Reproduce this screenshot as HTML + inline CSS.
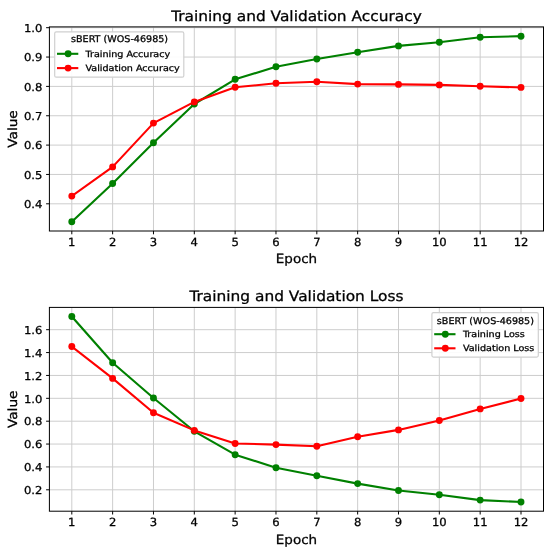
<!DOCTYPE html>
<html><head><meta charset="utf-8"><title>Training and Validation Accuracy / Loss</title>
<style>html,body{margin:0;padding:0;background:#fff;width:550px;height:553px;overflow:hidden}svg{display:block}</style>
</head><body>
<svg width="550" height="553" viewBox="0 0 550 553" font-family='"DejaVu Sans", "Liberation Sans", sans-serif' fill="#000">
<style>text{text-rendering:geometricPrecision;stroke:#000;stroke-width:0.3px;paint-order:stroke}</style>
<rect width="550" height="553" fill="#fff"/>
<path d="M71.8 26.9V231M112.64 26.9V231M153.47 26.9V231M194.31 26.9V231M235.14 26.9V231M275.98 26.9V231M316.82 26.9V231M357.65 26.9V231M398.49 26.9V231M439.32 26.9V231M480.16 26.9V231M521 26.9V231M49.4 203.8H543.5M49.4 174.45H543.5M49.4 145.1H543.5M49.4 115.75H543.5M49.4 86.4H543.5M49.4 57.05H543.5M49.4 27.7H543.5" stroke="#cdcdcd" stroke-width="1.0" fill="none"/>
<polyline points="71.8,221.7 112.64,183.5 153.47,142.8 194.31,104 235.14,79.3 275.98,66.8 316.82,59 357.65,52.2 398.49,45.9 439.32,42.3 480.16,37.2 521,36.2" fill="none" stroke="#008000" stroke-width="2.1" stroke-linejoin="round" stroke-linecap="square"/>
<circle cx="71.8" cy="221.7" r="3.45" fill="#008000"/>
<circle cx="112.64" cy="183.5" r="3.45" fill="#008000"/>
<circle cx="153.47" cy="142.8" r="3.45" fill="#008000"/>
<circle cx="194.31" cy="104" r="3.45" fill="#008000"/>
<circle cx="235.14" cy="79.3" r="3.45" fill="#008000"/>
<circle cx="275.98" cy="66.8" r="3.45" fill="#008000"/>
<circle cx="316.82" cy="59" r="3.45" fill="#008000"/>
<circle cx="357.65" cy="52.2" r="3.45" fill="#008000"/>
<circle cx="398.49" cy="45.9" r="3.45" fill="#008000"/>
<circle cx="439.32" cy="42.3" r="3.45" fill="#008000"/>
<circle cx="480.16" cy="37.2" r="3.45" fill="#008000"/>
<circle cx="521" cy="36.2" r="3.45" fill="#008000"/>
<polyline points="71.8,196.1 112.64,166.9 153.47,123.1 194.31,101.9 235.14,87.3 275.98,83.3 316.82,81.7 357.65,84.1 398.49,84.4 439.32,84.9 480.16,86.3 521,87.4" fill="none" stroke="#ff0000" stroke-width="2.1" stroke-linejoin="round" stroke-linecap="square"/>
<circle cx="71.8" cy="196.1" r="3.45" fill="#ff0000"/>
<circle cx="112.64" cy="166.9" r="3.45" fill="#ff0000"/>
<circle cx="153.47" cy="123.1" r="3.45" fill="#ff0000"/>
<circle cx="194.31" cy="101.9" r="3.45" fill="#ff0000"/>
<circle cx="235.14" cy="87.3" r="3.45" fill="#ff0000"/>
<circle cx="275.98" cy="83.3" r="3.45" fill="#ff0000"/>
<circle cx="316.82" cy="81.7" r="3.45" fill="#ff0000"/>
<circle cx="357.65" cy="84.1" r="3.45" fill="#ff0000"/>
<circle cx="398.49" cy="84.4" r="3.45" fill="#ff0000"/>
<circle cx="439.32" cy="84.9" r="3.45" fill="#ff0000"/>
<circle cx="480.16" cy="86.3" r="3.45" fill="#ff0000"/>
<circle cx="521" cy="87.4" r="3.45" fill="#ff0000"/>
<rect x="49.4" y="26.9" width="494.1" height="204.1" fill="none" stroke="#000" stroke-width="1.0"/>
<path d="M71.8 231v3.3M112.64 231v3.3M153.47 231v3.3M194.31 231v3.3M235.14 231v3.3M275.98 231v3.3M316.82 231v3.3M357.65 231v3.3M398.49 231v3.3M439.32 231v3.3M480.16 231v3.3M521 231v3.3M49.4 203.8h-3.3M49.4 174.45h-3.3M49.4 145.1h-3.3M49.4 115.75h-3.3M49.4 86.4h-3.3M49.4 57.05h-3.3M49.4 27.7h-3.3" stroke="#000" stroke-width="1" fill="none"/>
<text transform="translate(71.8 246.2) scale(1 0.97)" font-size="11.6" text-anchor="middle">1</text>
<text transform="translate(112.64 246.2) scale(1 0.97)" font-size="11.6" text-anchor="middle">2</text>
<text transform="translate(153.47 246.2) scale(1 0.97)" font-size="11.6" text-anchor="middle">3</text>
<text transform="translate(194.31 246.2) scale(1 0.97)" font-size="11.6" text-anchor="middle">4</text>
<text transform="translate(235.14 246.2) scale(1 0.97)" font-size="11.6" text-anchor="middle">5</text>
<text transform="translate(275.98 246.2) scale(1 0.97)" font-size="11.6" text-anchor="middle">6</text>
<text transform="translate(316.82 246.2) scale(1 0.97)" font-size="11.6" text-anchor="middle">7</text>
<text transform="translate(357.65 246.2) scale(1 0.97)" font-size="11.6" text-anchor="middle">8</text>
<text transform="translate(398.49 246.2) scale(1 0.97)" font-size="11.6" text-anchor="middle">9</text>
<text transform="translate(439.32 246.2) scale(1 0.97)" font-size="11.6" text-anchor="middle">10</text>
<text transform="translate(480.16 246.2) scale(1 0.97)" font-size="11.6" text-anchor="middle">11</text>
<text transform="translate(521 246.2) scale(1 0.97)" font-size="11.6" text-anchor="middle">12</text>
<text transform="translate(42.4 208.1) scale(1 0.94)" font-size="11.6" text-anchor="end">0.4</text>
<text transform="translate(42.4 178.75) scale(1 0.94)" font-size="11.6" text-anchor="end">0.5</text>
<text transform="translate(42.4 149.4) scale(1 0.94)" font-size="11.6" text-anchor="end">0.6</text>
<text transform="translate(42.4 120.05) scale(1 0.94)" font-size="11.6" text-anchor="end">0.7</text>
<text transform="translate(42.4 90.7) scale(1 0.94)" font-size="11.6" text-anchor="end">0.8</text>
<text transform="translate(42.4 61.35) scale(1 0.94)" font-size="11.6" text-anchor="end">0.9</text>
<text transform="translate(42.4 32) scale(1 0.94)" font-size="11.6" text-anchor="end">1.0</text>
<text transform="translate(296.45 262.6) scale(1 0.94)" font-size="13.5" text-anchor="middle">Epoch</text>
<text transform="translate(17.4 129) rotate(-90) scale(1 0.92)" font-size="13.7" text-anchor="middle">Value</text>
<text transform="translate(296.45 21) scale(1 0.93)" font-size="15.4" text-anchor="middle">Training and Validation Accuracy</text>
<rect x="54.7" y="31.9" width="129.1" height="45.3" rx="1.5" ry="1.5" fill="#fff" fill-opacity="0.9" stroke="#d0d0d0" stroke-width="1.2"/>
<text transform="translate(119.55 42.45) scale(1 0.96)" font-size="9.6" text-anchor="middle">sBERT (WOS-46985)</text>
<path d="M57 53.8H78.3" stroke="#008000" stroke-width="2.1"/>
<circle cx="68.1" cy="53.8" r="3.45" fill="#008000"/>
<text transform="translate(85.5 56.7) scale(1 0.9)" font-size="9.6">Training Accuracy</text>
<path d="M57 68.1H78.3" stroke="#ff0000" stroke-width="2.1"/>
<circle cx="68.1" cy="68.1" r="3.45" fill="#ff0000"/>
<text transform="translate(85.5 71) scale(1 0.9)" font-size="9.6">Validation Accuracy</text>
<path d="M71.8 307.4V511.2M112.64 307.4V511.2M153.47 307.4V511.2M194.31 307.4V511.2M235.14 307.4V511.2M275.98 307.4V511.2M316.82 307.4V511.2M357.65 307.4V511.2M398.49 307.4V511.2M439.32 307.4V511.2M480.16 307.4V511.2M521 307.4V511.2M49.4 489.8H543.5M49.4 466.93H543.5M49.4 444.06H543.5M49.4 421.19H543.5M49.4 398.32H543.5M49.4 375.44H543.5M49.4 352.57H543.5M49.4 329.7H543.5" stroke="#cdcdcd" stroke-width="1.0" fill="none"/>
<polyline points="71.8,316.5 112.64,362.8 153.47,398 194.31,431.3 235.14,454.7 275.98,467.7 316.82,475.8 357.65,483.6 398.49,490.5 439.32,494.8 480.16,500.1 521,502" fill="none" stroke="#008000" stroke-width="2.1" stroke-linejoin="round" stroke-linecap="square"/>
<circle cx="71.8" cy="316.5" r="3.45" fill="#008000"/>
<circle cx="112.64" cy="362.8" r="3.45" fill="#008000"/>
<circle cx="153.47" cy="398" r="3.45" fill="#008000"/>
<circle cx="194.31" cy="431.3" r="3.45" fill="#008000"/>
<circle cx="235.14" cy="454.7" r="3.45" fill="#008000"/>
<circle cx="275.98" cy="467.7" r="3.45" fill="#008000"/>
<circle cx="316.82" cy="475.8" r="3.45" fill="#008000"/>
<circle cx="357.65" cy="483.6" r="3.45" fill="#008000"/>
<circle cx="398.49" cy="490.5" r="3.45" fill="#008000"/>
<circle cx="439.32" cy="494.8" r="3.45" fill="#008000"/>
<circle cx="480.16" cy="500.1" r="3.45" fill="#008000"/>
<circle cx="521" cy="502" r="3.45" fill="#008000"/>
<polyline points="71.8,346.5 112.64,378.4 153.47,412.8 194.31,430.4 235.14,443.5 275.98,444.6 316.82,446.2 357.65,436.7 398.49,429.9 439.32,420.5 480.16,408.9 521,398.5" fill="none" stroke="#ff0000" stroke-width="2.1" stroke-linejoin="round" stroke-linecap="square"/>
<circle cx="71.8" cy="346.5" r="3.45" fill="#ff0000"/>
<circle cx="112.64" cy="378.4" r="3.45" fill="#ff0000"/>
<circle cx="153.47" cy="412.8" r="3.45" fill="#ff0000"/>
<circle cx="194.31" cy="430.4" r="3.45" fill="#ff0000"/>
<circle cx="235.14" cy="443.5" r="3.45" fill="#ff0000"/>
<circle cx="275.98" cy="444.6" r="3.45" fill="#ff0000"/>
<circle cx="316.82" cy="446.2" r="3.45" fill="#ff0000"/>
<circle cx="357.65" cy="436.7" r="3.45" fill="#ff0000"/>
<circle cx="398.49" cy="429.9" r="3.45" fill="#ff0000"/>
<circle cx="439.32" cy="420.5" r="3.45" fill="#ff0000"/>
<circle cx="480.16" cy="408.9" r="3.45" fill="#ff0000"/>
<circle cx="521" cy="398.5" r="3.45" fill="#ff0000"/>
<rect x="49.4" y="307.4" width="494.1" height="203.8" fill="none" stroke="#000" stroke-width="1.0"/>
<path d="M71.8 511.2v3.3M112.64 511.2v3.3M153.47 511.2v3.3M194.31 511.2v3.3M235.14 511.2v3.3M275.98 511.2v3.3M316.82 511.2v3.3M357.65 511.2v3.3M398.49 511.2v3.3M439.32 511.2v3.3M480.16 511.2v3.3M521 511.2v3.3M49.4 489.8h-3.3M49.4 466.93h-3.3M49.4 444.06h-3.3M49.4 421.19h-3.3M49.4 398.32h-3.3M49.4 375.44h-3.3M49.4 352.57h-3.3M49.4 329.7h-3.3" stroke="#000" stroke-width="1" fill="none"/>
<text transform="translate(71.8 526.2) scale(1 0.97)" font-size="11.6" text-anchor="middle">1</text>
<text transform="translate(112.64 526.2) scale(1 0.97)" font-size="11.6" text-anchor="middle">2</text>
<text transform="translate(153.47 526.2) scale(1 0.97)" font-size="11.6" text-anchor="middle">3</text>
<text transform="translate(194.31 526.2) scale(1 0.97)" font-size="11.6" text-anchor="middle">4</text>
<text transform="translate(235.14 526.2) scale(1 0.97)" font-size="11.6" text-anchor="middle">5</text>
<text transform="translate(275.98 526.2) scale(1 0.97)" font-size="11.6" text-anchor="middle">6</text>
<text transform="translate(316.82 526.2) scale(1 0.97)" font-size="11.6" text-anchor="middle">7</text>
<text transform="translate(357.65 526.2) scale(1 0.97)" font-size="11.6" text-anchor="middle">8</text>
<text transform="translate(398.49 526.2) scale(1 0.97)" font-size="11.6" text-anchor="middle">9</text>
<text transform="translate(439.32 526.2) scale(1 0.97)" font-size="11.6" text-anchor="middle">10</text>
<text transform="translate(480.16 526.2) scale(1 0.97)" font-size="11.6" text-anchor="middle">11</text>
<text transform="translate(521 526.2) scale(1 0.97)" font-size="11.6" text-anchor="middle">12</text>
<text transform="translate(42.4 494.1) scale(1 0.94)" font-size="11.6" text-anchor="end">0.2</text>
<text transform="translate(42.4 471.23) scale(1 0.94)" font-size="11.6" text-anchor="end">0.4</text>
<text transform="translate(42.4 448.36) scale(1 0.94)" font-size="11.6" text-anchor="end">0.6</text>
<text transform="translate(42.4 425.49) scale(1 0.94)" font-size="11.6" text-anchor="end">0.8</text>
<text transform="translate(42.4 402.62) scale(1 0.94)" font-size="11.6" text-anchor="end">1.0</text>
<text transform="translate(42.4 379.74) scale(1 0.94)" font-size="11.6" text-anchor="end">1.2</text>
<text transform="translate(42.4 356.87) scale(1 0.94)" font-size="11.6" text-anchor="end">1.4</text>
<text transform="translate(42.4 334) scale(1 0.94)" font-size="11.6" text-anchor="end">1.6</text>
<text transform="translate(296.45 543.7) scale(1 0.94)" font-size="13.5" text-anchor="middle">Epoch</text>
<text transform="translate(17.4 409.3) rotate(-90) scale(1 0.92)" font-size="13.7" text-anchor="middle">Value</text>
<text transform="translate(296.45 301.4) scale(1 0.93)" font-size="15.4" text-anchor="middle">Training and Validation Loss</text>
<rect x="431.9" y="312.7" width="106.4" height="44.4" rx="1.5" ry="1.5" fill="#fff" fill-opacity="0.9" stroke="#d0d0d0" stroke-width="1.2"/>
<text transform="translate(485.4 323.6) scale(1 0.96)" font-size="9.6" text-anchor="middle">sBERT (WOS-46985)</text>
<path d="M434.2 334.2H455.5" stroke="#008000" stroke-width="2.1"/>
<circle cx="445.3" cy="334.2" r="3.45" fill="#008000"/>
<text transform="translate(462.9 337.4) scale(1 0.9)" font-size="9.6">Training Loss</text>
<path d="M434.2 348.3H455.5" stroke="#ff0000" stroke-width="2.1"/>
<circle cx="445.3" cy="348.3" r="3.45" fill="#ff0000"/>
<text transform="translate(462.9 351.4) scale(1 0.9)" font-size="9.6">Validation Loss</text>
</svg>
</body></html>
